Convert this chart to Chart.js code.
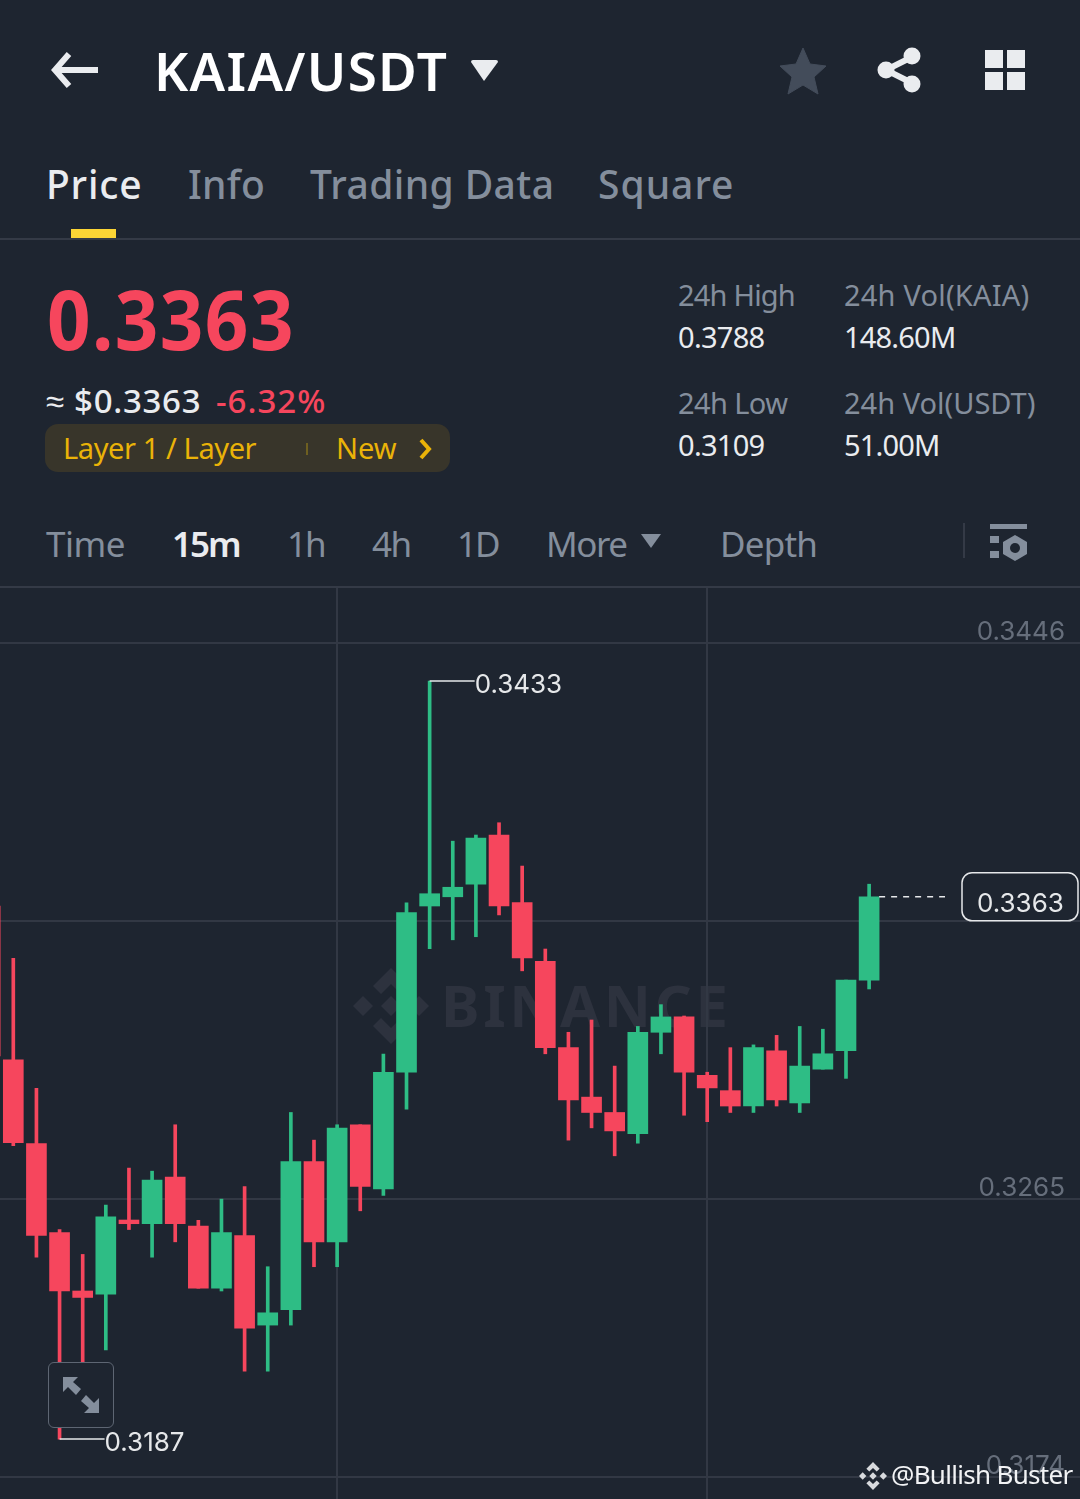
<!DOCTYPE html>
<html>
<head>
<meta charset="utf-8">
<title>KAIA/USDT</title>
<script src="https://cdn.jsdelivr.net/npm/chart.js@4/dist/chart.umd.min.js"></script>
<style>
html, body { margin: 0; padding: 0; background: #1e2530; }
#page { position: relative; width: 1080px; height: 1499px; overflow: hidden; background: #1e2530; font-family: "Noto Sans", sans-serif; }
.t { position: absolute; white-space: nowrap; line-height: 1; }
.w { color: #eaecef; }
.g { color: #848e9c; }
.y { color: #eab308; }
.r { color: #f6465d; }
.line { position: absolute; background: #343a46; }
svg { position: absolute; }
#priceChart { position: absolute; left: 0; top: 588px; }
#expand { position: absolute; left: 48px; top: 1362px; width: 64px; height: 64px; border: 1px solid #5e6673; border-radius: 6px; background: #1e2530; }
</style>
</head>
<body>
<div id="page">

  <!-- header -->
  <svg style="left:51px;top:50px" width="50" height="42" viewBox="0 0 50 42">
    <path d="M18 4 L4 20 L18 36 M5 20 H47" fill="none" stroke="#eaecef" stroke-width="6"/>
  </svg>
  <div class="t" style="left:154px;top:44px;font-size:53px;font-weight:600;color:#fff;letter-spacing:1.3px">KAIA/USDT</div>
  <svg style="left:470px;top:59px" width="30" height="24"><path d="M1 3 Q1 1 3 1 H26 Q28 1 28 3 L14 22 Z" fill="#eaecef"/></svg>
  <svg style="left:779px;top:47px" width="48" height="48" viewBox="0 0 48 48">
    <path d="M24 1 L31 17 L47 19 L35 30 L39 47 L24 38 L9 47 L13 30 L1 19 L17 17 Z" fill="#434c5a" stroke="#434c5a" stroke-width="1" stroke-linejoin="round"/>
  </svg>
  <svg style="left:876px;top:46px" width="46" height="48" viewBox="0 0 46 48">
    <path d="M36 11 L10 24 L36 37" fill="none" stroke="#eaecef" stroke-width="6"/>
    <circle cx="36" cy="10" r="8.5" fill="#eaecef"/><circle cx="10" cy="24" r="8.5" fill="#eaecef"/><circle cx="36" cy="38" r="8.5" fill="#eaecef"/>
  </svg>
  <svg style="left:985px;top:50px" width="40" height="40">
    <rect x="0" y="0" width="18" height="18" fill="#eaecef"/><rect x="22" y="0" width="18" height="18" fill="#eaecef"/>
    <rect x="0" y="22" width="18" height="18" fill="#eaecef"/><rect x="22" y="22" width="18" height="18" fill="#eaecef"/>
  </svg>

  <!-- tabs -->
  <div class="t w" style="left:46px;top:164px;font-size:39px;font-weight:500;letter-spacing:.8px">Price</div>
  <div class="t g" style="left:188px;top:164px;font-size:39px;font-weight:500;letter-spacing:.3px">Info</div>
  <div class="t g" style="left:310px;top:164px;font-size:39px;font-weight:500;letter-spacing:.4px">Trading Data</div>
  <div class="t g" style="left:598px;top:164px;font-size:39px;font-weight:500;letter-spacing:1px">Square</div>
  <div style="position:absolute;left:71px;top:229px;width:45px;height:9px;background:#fcd535"></div>
  <div class="line" style="left:0;top:238px;width:1080px;height:2px"></div>

  <!-- price block -->
  <div class="t r" style="left:47px;top:277px;font-size:82px;font-weight:700;letter-spacing:1.5px;transform:scaleX(.93);transform-origin:left">0.3363</div>
  <div class="t w" style="left:46px;top:384px;font-size:33px;font-weight:500;letter-spacing:.7px">≈ $0.3363</div>
  <div class="t r" style="left:216px;top:384px;font-size:33px;font-weight:500;letter-spacing:1px">-6.32%</div>
  <div style="position:absolute;left:45px;top:424px;width:405px;height:48px;border-radius:13px;background:#38352a"></div>
  <div class="t y" style="left:63px;top:433px;font-size:29px;letter-spacing:-.4px">Layer 1 / Layer</div>
  <div style="position:absolute;left:306px;top:443px;width:2px;height:12px;background:#6e5f20"></div>
  <div class="t y" style="left:336px;top:433px;font-size:29px">New</div>
  <svg style="left:419px;top:438px" width="14" height="22"><path d="M2 2 L10 11 L2 20" fill="none" stroke="#eab308" stroke-width="4"/></svg>

  <!-- 24h stats -->
  <div class="t g" style="left:678px;top:280px;font-size:29px;letter-spacing:-.8px">24h High</div>
  <div class="t w" style="left:678px;top:322px;font-size:29px;letter-spacing:-.7px">0.3788</div>
  <div class="t g" style="left:844px;top:280px;font-size:29px;letter-spacing:.2px">24h Vol(KAIA)</div>
  <div class="t w" style="left:844px;top:322px;font-size:29px;letter-spacing:-.8px">148.60M</div>
  <div class="t g" style="left:678px;top:388px;font-size:29px;letter-spacing:-.6px">24h Low</div>
  <div class="t w" style="left:678px;top:430px;font-size:29px;letter-spacing:-.7px">0.3109</div>
  <div class="t g" style="left:844px;top:388px;font-size:29px">24h Vol(USDT)</div>
  <div class="t w" style="left:844px;top:430px;font-size:29px;letter-spacing:-.8px">51.00M</div>

  <!-- interval bar -->
  <div class="t g" style="left:46px;top:526px;font-size:35px;letter-spacing:-.5px">Time</div>
  <div class="t w" style="left:172px;top:526px;font-size:35px;font-weight:600;letter-spacing:-2px">15m</div>
  <div class="t g" style="left:287px;top:526px;font-size:35px;letter-spacing:-2px">1h</div>
  <div class="t g" style="left:372px;top:526px;font-size:35px;letter-spacing:-1.5px">4h</div>
  <div class="t g" style="left:457px;top:526px;font-size:35px;letter-spacing:-2px">1D</div>
  <div class="t g" style="left:546px;top:526px;font-size:35px;letter-spacing:-1.5px">More</div>
  <svg style="left:640px;top:533px" width="22" height="16"><path d="M1 1 H21 L11 15 Z" fill="#848e9c"/></svg>
  <div class="t g" style="left:720px;top:526px;font-size:35px;letter-spacing:-.8px">Depth</div>
  <div class="line" style="left:963px;top:523px;width:2px;height:35px"></div>
  <svg style="left:990px;top:524px" width="38" height="37">
    <rect x="0" y="0" width="37" height="5" fill="#848e9c"/>
    <rect x="0" y="12" width="9" height="7" fill="#848e9c"/><rect x="0" y="27" width="9" height="7" fill="#848e9c"/>
    <path d="M25 11 L37 18 V30 L25 37 L13 30 V18 Z" fill="#848e9c"/><circle cx="25" cy="24" r="5" fill="#1e2530"/>
  </svg>
  <div class="line" style="left:0;top:586px;width:1080px;height:2px"></div>

  <!-- watermark under the chart -->
  <svg style="left:353px;top:968px" width="76" height="76" viewBox="0 0 76 76" fill="#2d323e">
    <path d="M38 0 L56 18 L48 26 L38 16 L28 26 L20 18 Z"/><path d="M38 76 L56 58 L48 50 L38 60 L28 50 L20 58 Z"/>
    <path d="M38 28 L48 38 L38 48 L28 38 Z"/><path d="M10 28 L20 38 L10 48 L0 38 Z"/><path d="M66 28 L76 38 L66 48 L56 38 Z"/>
  </svg>
  <div class="t" style="left:441px;top:976px;font-size:58px;font-weight:700;color:#2d323e;letter-spacing:3.6px">BINANCE</div>

  <canvas id="priceChart" width="1080" height="911"></canvas>

  <!-- expand button -->
  <div id="expand">
    <svg style="left:12px;top:12px" width="40" height="40" viewBox="0 0 40 40" fill="#848e9c">
      <path d="M2 2 H17 L12 7 L20 14 L15 20 L7 12 L2 17 Z"/><path d="M38 38 H23 L28 33 L20 26 L25 20 L33 28 L38 23 Z"/>
    </svg>
  </div>

  <!-- credit -->
  <svg style="left:859px;top:1462px" width="28" height="28" viewBox="0 0 76 76" fill="#d8dadd">
    <path d="M38 0 L56 18 L48 26 L38 16 L28 26 L20 18 Z"/><path d="M38 76 L56 58 L48 50 L38 60 L28 50 L20 58 Z"/>
    <path d="M38 28 L48 38 L38 48 L28 38 Z"/><path d="M10 28 L20 38 L10 48 L0 38 Z"/><path d="M66 28 L76 38 L66 48 L56 38 Z"/>
  </svg>
  <div class="t" style="left:891px;top:1461px;font-size:26px;color:#f2f3f5;letter-spacing:-.7px">@Bullish Buster</div>
</div>

<script>
// ================= DATA =================
// 15m candles, oldest first. The first one is cut off by the left edge.
const opens = [0.33604, 0.33103, 0.32831, 0.32541, 0.32351, 0.32341, 0.32582, 0.32570, 0.32722, 0.32562, 0.32360, 0.32531, 0.32240, 0.32290, 0.32772, 0.32511, 0.32892, 0.32683, 0.33063, 0.33604, 0.33634, 0.33675, 0.33835, 0.33615, 0.33424, 0.33143, 0.32982, 0.32932, 0.32863, 0.33193, 0.33243, 0.33053, 0.33003, 0.32953, 0.33133, 0.32963, 0.33073, 0.33133, 0.33363];
const highs = [0.33604, 0.33434, 0.33011, 0.32551, 0.32470, 0.32631, 0.32751, 0.32741, 0.32892, 0.32581, 0.32650, 0.32691, 0.32430, 0.32932, 0.32842, 0.32892, 0.32892, 0.33122, 0.33614, 0.34336, 0.33815, 0.33835, 0.33875, 0.33734, 0.33464, 0.33193, 0.33233, 0.33083, 0.33212, 0.33283, 0.33246, 0.33063, 0.33143, 0.33152, 0.33183, 0.33212, 0.33203, 0.33363, 0.33675];
const lows = [0.33116, 0.32824, 0.32461, 0.31869, 0.32061, 0.32159, 0.32551, 0.32461, 0.32511, 0.32360, 0.32351, 0.32090, 0.32090, 0.32240, 0.32430, 0.32430, 0.32612, 0.32662, 0.32943, 0.33465, 0.33494, 0.33504, 0.33575, 0.33393, 0.33123, 0.32842, 0.32882, 0.32791, 0.32832, 0.33123, 0.32923, 0.32902, 0.32932, 0.32932, 0.32953, 0.32932, 0.33073, 0.33043, 0.33334];
const closes = [0.33116, 0.32834, 0.32532, 0.32351, 0.32330, 0.32592, 0.32570, 0.32712, 0.32570, 0.32360, 0.32541, 0.32230, 0.32280, 0.32772, 0.32511, 0.32881, 0.32691, 0.33063, 0.33583, 0.33644, 0.33665, 0.33825, 0.33604, 0.33435, 0.33143, 0.32973, 0.32932, 0.32872, 0.33193, 0.33243, 0.33063, 0.33012, 0.32953, 0.33143, 0.32973, 0.33083, 0.33123, 0.33363, 0.33634];

const priceTicks = [0.3446, 0.33555, 0.3265, 0.31745];
const priceTickLabels = ["0.3446", "", "0.3265", "0.3174"];
const timeGridAt = [15, 31];

const highLabel = "0.3433";
const lowLabel = "0.3187";
const lastLabel = "0.3363";

// ================= COLOURS =================
const UP = "#2ebd85";
const DOWN = "#f6465d";
const GRID = "#323844";
const AXIS_TEXT = "#666e7b";
const NOTE_TEXT = "#e6e8ea";
const NOTE_FONT = '26px Inter';

const candleColors = opens.map((o, i) => (closes[i] < o ? DOWN : UP));
const wicks = lows.map((l, i) => ({ x: i, y: [l, highs[i]] }));
const bodies = opens.map((o, i) => ({ x: i, y: [o, closes[i]] }));

// ================= PRICE NOTES =================
// high / low leaders and the last price box, placed through the scales
const priceNotes = {
    id: "priceNotes",
    afterDatasetsDraw(chart) {
        const { ctx, scales } = chart;
        const hi = highs.indexOf(Math.max(...highs));
        const lo = lows.indexOf(Math.min(...lows));
        const last = closes.length - 1;

        ctx.save();
        ctx.font = NOTE_FONT;
        ctx.textBaseline = "middle";
        ctx.textAlign = "left";
        ctx.strokeStyle = NOTE_TEXT;
        ctx.lineWidth = 1.5;

        let x = scales.x.getPixelForValue(hi);
        let y = scales.y.getPixelForValue(highs[hi]);
        ctx.beginPath(); ctx.moveTo(x, y); ctx.lineTo(x + 45, y); ctx.stroke();
        ctx.fillStyle = NOTE_TEXT;
        ctx.fillText(highLabel, x + 45, y + 4);

        x = scales.x.getPixelForValue(lo);
        y = scales.y.getPixelForValue(lows[lo]);
        ctx.beginPath(); ctx.moveTo(x, y); ctx.lineTo(x + 45, y); ctx.stroke();
        ctx.fillText(lowLabel, x + 45, y + 4);

        x = scales.x.getPixelForValue(last);
        y = scales.y.getPixelForValue(closes[last]);
        ctx.setLineDash([6, 6]);
        ctx.beginPath(); ctx.moveTo(x + 10, y); ctx.lineTo(945, y); ctx.stroke();
        ctx.setLineDash([]);

        ctx.beginPath();
        ctx.roundRect(962, y - 24, 116, 48, 10);
        ctx.fillStyle = "#1e2530";
        ctx.fill();
        ctx.stroke();
        ctx.fillStyle = NOTE_TEXT;
        ctx.fillText(lastLabel, 977, y + 7);
        ctx.restore();
    }
};

// ================= CHART =================
new Chart(document.getElementById("priceChart"), {
    type: "bar",
    data: {
        datasets: [
            { data: wicks, backgroundColor: candleColors, barThickness: 3, grouped: false, order: 2 },
            { data: bodies, backgroundColor: candleColors, barThickness: 20, grouped: false, order: 1 }
        ]
    },
    options: {
        responsive: false,
        animation: false,
        plugins: { legend: { display: false }, tooltip: { enabled: false } },
        layout: { padding: 0 },
        scales: {
            x: {
                type: "linear",
                min: 0.425,
                max: 47.117,
                offset: false,
                border: { display: false },
                grid: { color: GRID, lineWidth: 2, offset: false, drawTicks: false },
                ticks: { display: false },
                afterBuildTicks(scale) {
                    scale.ticks = timeGridAt.map(v => ({ value: v }));
                }
            },
            y: {
                position: "right",
                min: 0.31674,
                max: 0.34639,
                border: { display: false },
                grid: { color: GRID, lineWidth: 2, drawTicks: false },
                ticks: {
                    mirror: true,
                    padding: -15,
                    labelOffset: -11,
                    color: AXIS_TEXT,
                    font: { family: "Inter", size: 26 },
                    callback: v => {
                        const i = priceTicks.indexOf(v);
                        return i < 0 ? "" : priceTickLabels[i];
                    }
                },
                afterBuildTicks(scale) {
                    scale.ticks = priceTicks.map(v => ({ value: v }));
                },
                // labels sit inside the plot, so the axis takes no room
                afterFit(scale) {
                    scale.width = 0;
                    scale.paddingTop = 0;
                    scale.paddingBottom = 0;
                }
            }
        }
    },
    plugins: [priceNotes]
});
</script>
</body>
</html>
